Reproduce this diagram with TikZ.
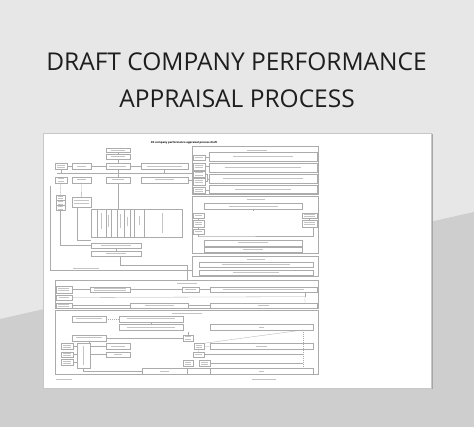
\documentclass[tikz,border=0pt]{standalone}
\usepackage{fontspec}
\setmainfont{Open Sans}
\usetikzlibrary{calc}
\definecolor{bgtop}{HTML}{E7E7E7}
\definecolor{bgbot}{HTML}{CECECE}
\definecolor{ln}{HTML}{ABABAB}
\definecolor{tx}{HTML}{C4C4C4}
\definecolor{ttl}{HTML}{1E1E1E}
\tikzset{
 bx/.style={draw=ln,line width=0.3pt,inner sep=0pt,outer sep=0pt,rectangle},
 pnl/.style={draw=ln,line width=0.4pt,inner sep=0pt,outer sep=0pt,rectangle},
 tm/.style={draw=tx,line width=0.85pt},
 tms/.style={draw=tx,line width=0.55pt},
 cn/.style={draw=ln,line width=0.3pt},
 dcn/.style={draw=ln,line width=0.3pt,dash pattern=on 1pt off 1pt},
 bigtitle/.style={font=\fontsize{24.5}{30}\selectfont,text=ttl,anchor=base,inner sep=0pt}
}
% box with one text mark
\newcommand\mybox[6]{\node[bx,minimum width=#4pt,minimum height=#5pt,anchor=north west] (#1) at (#2,#3) {};
\draw[tm] (#1.center) ++({-0.5*#6*#4},0) -- ++({#6*#4},0);}
% box with two text marks
\newcommand\myboxb[6]{\node[bx,minimum width=#4pt,minimum height=#5pt,anchor=north west] (#1) at (#2,#3) {};
\draw[tms] (#1.center) ++({-0.5*#6*#4},-1.1) -- ++({#6*#4},0);
\draw[tms] (#1.center) ++({-0.5*#6*#4},1.1) -- ++({#6*#4},0);}
% panel frame
\newcommand\mypanel[5]{\node[pnl,minimum width=#4pt,minimum height=#5pt,anchor=north west] (#1) at (#2,#3) {};}
\begin{document}
\begin{tikzpicture}[x=1pt,y=-1pt]
\useasboundingbox (0,0) rectangle (474,427);
% background
\fill[bgtop] (0,0) rectangle (474,427);
\fill[bgbot] (0,319) -- (474,212) -- (474,427) -- (0,427) -- cycle;
% title
\node[bigtitle] (t1) at (236.5,71) {DRAFT COMPANY PERFORMANCE};
\node[bigtitle] (t2) at (237,107.7) {APPRAISAL PROCESS};
% page
\fill[black!35] (44,134.5) rectangle (432.5,389.5);
\fill[white] (43,133) rectangle (431,388);
\draw[black!22,line width=0.5pt] (43,133) rectangle (431,388);
% page heading
\node[font=\fontsize{2.7}{3}\selectfont\bfseries,inner sep=0pt] (head) at (184,143) {XX company performance appraisal process draft};

% ---------- left upper panel ----------
\mybox{a1}{105.7}{147.7}{24.3}{4.5}{0.6}
\mybox{a2}{105.7}{154}{24.3}{5}{0.6}
\myboxb{r1a}{54.7}{163.3}{12.6}{5.7}{0.7}
\mybox{r1b}{72.3}{163.3}{18.4}{5.7}{0.5}
\mybox{r1c}{105.7}{163.3}{24.3}{5.7}{0.7}
\mybox{r1d}{140.7}{163.3}{47.3}{5.7}{0.75}
\myboxb{r2a}{54.7}{176.7}{12.6}{6}{0.5}
\mybox{r2b}{72.3}{176.7}{18.4}{6}{0.5}
\mybox{r2c}{105.7}{176.7}{24.3}{6}{0.5}
\mybox{r2d}{140.7}{176.7}{47.3}{6}{0.4}
\draw[cn] (a1) -- (a2);
\draw[cn] (a2) -- (r1c);
\draw[cn] (r1a) -- (r1b);
\draw[cn] (r1b) -- (r1c);
\draw[cn] (r1c) -- (r1d);
\coordinate (busl) at (57,172.7);
\coordinate (busr) at (192.5,172.7);
\draw[cn] (busl) -- (busr);
\draw[cn] (r1a.south) -- (r1a.south |- busl);
\draw[cn] (r1c.south) -- (r2c.north);
\draw[cn] (r1d.south) -- (r1d.south |- busl);

\myboxb{c1}{55.7}{195}{9}{5}{0.6}
\myboxb{c2}{55.7}{200.5}{9}{4.5}{0.6}
\myboxb{c3}{55.7}{205.5}{9}{4.5}{0.6}
\myboxb{d1}{72}{196.7}{18.7}{10}{0.8}
\node[bx,minimum width=91.6pt,minimum height=28pt,anchor=north west] (big) at (90.7,209.3) {};
\foreach \xx in {97,105.7,110.7,116.7,124,130,134,144}
  \draw[cn] (\xx,209.3) -- (\xx,237.3);
\foreach \xx/\ya/\yb in {101/213/229,108.2/215/227,120.3/214/228,127/217/226,139/216/225}
  \draw[tms] (\xx,\ya) -- (\xx,\yb);
\draw[tm] (162,213) -- (162,233);
\mybox{e1}{90.7}{242.7}{50.6}{5.6}{0.6}
\mybox{e2}{90.7}{250.7}{50.6}{5.3}{0.4}
\draw[cn] (r2a.south) -- (c1.north);
\draw[cn] (r2b.south) -- (d1.north);
\draw[cn] (r2c.south) -- (r2c.south |- big.north);
\draw[cn] (r2d.east) -- (r2d.east -| busr);
\draw[cn] (c3.south) |- (e1.west);
\draw[cn] ([xshift=-4pt]d1.south) |- ([yshift=-2.7pt]big.south west);
\draw[cn] (e1) -- (e2);
\coordinate (lp1) at (50,186);
\coordinate (lp2) at (50,270);
\coordinate (lp3) at (192.5,270);
\draw[cn] (lp1) -- (lp2) -- (lp3);
\draw[tms] (73,268.3) -- (99,268.3);

% ---------- right panels ----------
\mypanel{p1}{192.5}{146.7}{125.8}{47.3}
\draw[tms] (247,150) -- (267,150);
\mybox{s1}{193}{155}{12}{5}{0.6}
\myboxb{s2}{193}{163.3}{12}{6.7}{0.6}
\myboxb{s3}{193}{171}{12}{5.7}{0.6}
\myboxb{s4}{193}{178.3}{12}{6.7}{0.6}
\myboxb{s5}{193}{186.7}{12}{6.6}{0.6}
\mybox{w1}{209}{152.3}{108}{8.4}{0.56}
\mybox{w2}{209}{163.3}{108}{9}{0.71}
\mybox{w3}{209}{174.3}{108}{9}{0.74}
\mybox{w4}{209}{185}{108}{8.3}{0.51}
\draw[cn] (s1.east) -- (s1.east -| w1.west);
\draw[cn] (s2.east) -- (s2.east -| w2.west);
\draw[cn] (s3.east) -- ++(2,0) |- (w3.west);
\draw[cn] (s4.east) -- ++(2,0) |- (w3.west);
\draw[cn] (s5.east) -- (s5.east -| w4.west);

\mypanel{p2}{192.5}{196}{125.8}{57.3}
\draw[tms] (247,199.3) -- (265,199.3);
\mybox{v1}{204}{203}{98}{6}{0.5}
\mybox{l1}{193}{212.7}{11}{5.6}{0.6}
\myboxb{l2}{193}{220}{11}{6.7}{0.6}
\mybox{l3}{193}{229.3}{11}{5}{0.6}
\myboxb{q1}{302}{212.7}{15}{5.6}{0.7}
\myboxb{q2}{302}{220}{15}{6.7}{0.7}
\mybox{v2}{204}{240}{98}{5.7}{0.3}
\mybox{v3}{204}{247.5}{98}{4.8}{0.2}
\coordinate (fr1) at (199,236);
\coordinate (fr2) at (313,236);
\draw[cn] (l1) -- (l2);
\draw[cn] (l2) -- (l3);
\draw[cn] (l3.south) |- (fr1) -- (fr2) -- (q2.south -| fr2);
\draw[cn] (q1) -- (q2);
\draw[cn] (v1.south) -- ++(0,2);
\draw[cn] (v2) -- (v3);

\mypanel{p3}{192.5}{256}{125.8}{20}
\draw[tms] (247,259) -- (265,259);
\mybox{u1}{199}{262}{114}{5.3}{0.6}
\mybox{u2}{199}{270}{114}{5.3}{0.4}

% connector from left panel to section 2
\coordinate (j1) at (120,265);
\mypanel{sec2}{55}{280}{263.3}{28.3}
\draw[cn] (e2.south -| j1) -- (j1) -| (sec2.north);

% ---------- section 2 ----------
\draw[tms] (177,283) -- (197,283);
\myboxb{m1}{55.7}{286}{16}{7}{0.7}
\mybox{m2}{55.7}{295}{16}{5}{0.6}
\myboxb{m3}{55.7}{303}{16}{5.3}{0.7}
\myboxb{n1}{90}{287}{40}{5}{0.8}
\mybox{n2}{182}{287}{17}{5}{0.6}
\mybox{n3}{210}{287}{107}{5}{0.75}
\mybox{n4}{130}{303}{58}{5}{0.5}
\mybox{n5}{210}{303}{107}{5}{0.1}
\coordinate (vr) at (305,296.7);
\draw[cn] (m1.east) -- (m1.east -| n1.west);
\draw[cn] (n1) -- (n2);
\draw[cn] (n2) -- (n3);
\draw[cn] (m2.east) -- (vr) -- (vr |- n5.north);
\draw[cn] (vr |- n3.south) -- (vr);
\draw[cn] (m3.east) -- (m3.east -| n4.west);
\draw[cn] (n4) -- (n5);

% ---------- section 3 ----------
\mypanel{sec3}{55}{310.7}{263.3}{63.3}
\draw[tms] (172,313.7) -- (202,313.7);
\mybox{f1}{72}{316}{34}{5.7}{0.75}
\mybox{f2}{119}{316}{64}{5.7}{0.75}
\mybox{f3}{119}{324.3}{64}{5.7}{0.75}
\mybox{f4}{210}{324.3}{103}{5.7}{0.05}
\mybox{f5}{72}{335}{34}{5.7}{0.75}
\myboxb{f6}{183}{335}{10}{5.7}{0.6}
\myboxb{g1}{61}{343.3}{12}{6}{0.6}
\myboxb{g2}{61}{351.7}{12}{5.7}{0.6}
\myboxb{g3}{61}{359.3}{12}{6.3}{0.6}
\node[bx,minimum width=13pt,minimum height=25.6pt,anchor=north west] (tall) at (77,342.7) {};
\draw[tms] (83.5,346) -- (83.5,365);
\mybox{h1}{106}{343.3}{24}{5.7}{0.6}
\mybox{h2}{106}{351.7}{24}{5.3}{0.3}
\myboxb{k1}{194}{343.3}{10}{6}{0.6}
\mybox{k2}{210}{343.3}{103}{5.7}{0.1}
\mybox{k3}{193}{352}{11}{5}{0.6}
\myboxb{k4}{183}{360}{10}{6}{0.6}
\myboxb{k5}{199}{360}{11}{6}{0.6}
\mybox{o1}{142}{368.3}{45}{5.7}{0.2}
\mybox{o2}{210}{368.3}{103}{5.7}{0.05}
\coordinate (dg) at (303,330);
\coordinate (db) at (303,368.3);
\draw[dcn] (f1) -- (f2);
\draw[cn] (f2) -- (f3);
\draw[cn] (f5.east) -- (f5.east -| f6.west);
\draw[cn] (f6.north) -- ++(0,-3);
\draw[cn] (g1) -- (g1 -| tall.west);
\draw[cn] (g2) -- (g2 -| tall.west);
\draw[cn] (g3) -- (g3 -| tall.west);
\draw[cn] (h1 -| tall.east) -- (h1);
\draw[cn] (h2 -| tall.east) -- (h2);
\draw[cn] (k1.north east) -- (dg);
\draw[dcn] (dg) -- (db);
\draw[cn] (k1) -- (k2);
\draw[cn] (k3.east) -- (k3.east -| dg);
\draw[cn] (k5.east) -- (k5.east -| dg);
\draw[cn] (k1) -- (k3);
\draw[cn] (tall.south) |- (o1.west);
\draw[cn] (o1.north east) -- (o2.north west);
\draw[cn] (f5.south) -- ++(0,2);

% footer
\draw[tms] (56,379) -- (72,379);
\draw[tms] (252,379) -- (276,379);
\end{tikzpicture}
\end{document}
